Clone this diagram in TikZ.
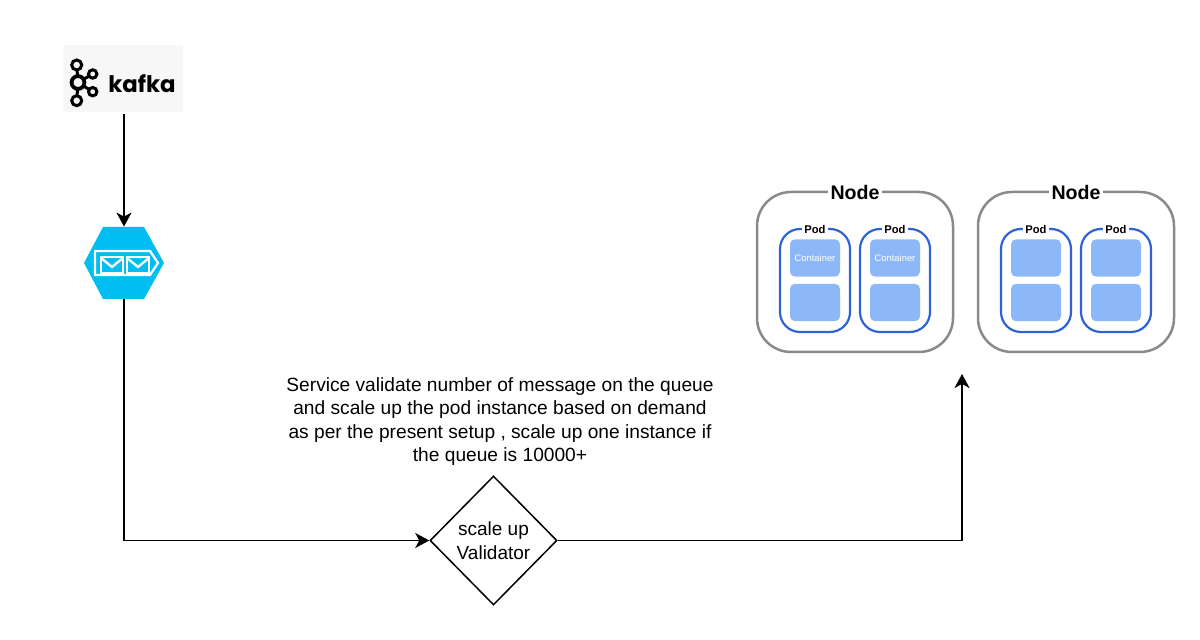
\documentclass[tikz,border=0pt]{standalone}
\usepackage{fontspec}
\setmainfont{Liberation Sans}
\newfontfamily\logofont{Poppins}
\usetikzlibrary{arrows.meta,shapes.geometric}
\definecolor{queueblue}{HTML}{00BEF2}
\definecolor{podblue}{HTML}{2F63D0}
\definecolor{boxblue}{HTML}{8DB8F8}
\definecolor{nodegray}{HTML}{8A8A8A}
\tikzset{
  flow/.style={draw=black,line width=.9pt,-{Stealth[length=7pt,width=7.5pt,inset=2pt]}},
  nodebox/.style={draw=nodegray,line width=1.25pt,rounded corners=17pt,minimum width=98pt,minimum height=80pt,inner sep=0pt},
  podbox/.style={draw=podblue,line width=1.1pt,rounded corners=10pt,minimum width=35pt,minimum height=51.5pt,inner sep=0pt},
  contbox/.style={fill=boxblue,rounded corners=2.5pt,minimum width=25pt,minimum height=18.7pt,inner sep=0pt,text=white,font=\fontsize{4.7}{5}\selectfont},
  nodetitle/.style={fill=white,inner sep=1.2pt,font=\fontsize{9.8}{10}\selectfont\bfseries},
  podtitle/.style={fill=white,inner sep=1pt,font=\fontsize{5.6}{6}\selectfont\bfseries},
  logoring/.style={draw=black,line width=1.5pt},
  envelope/.style={draw=white,line width=1.15pt}
}
\begin{document}
\begin{tikzpicture}[x=.5pt,y=-.5pt]
  \useasboundingbox (0,0) rectangle (1200,640);

  % kafka logo
  \node (kafka) [fill=black!3,minimum width=60pt,minimum height=33.5pt,inner sep=0pt] at (123,78.5) {};
  \draw[logoring] (76.7,65) -- (78,82.5) -- (76.7,100.7);
  \draw[logoring] (78,82.5) -- (92.7,74);
  \draw[logoring] (78,82.5) -- (92.7,91.7);
  \foreach \lx/\ly/\lr in {76.7/65/2.5,76.7/100.7/2.5,92.7/74/2.1,92.7/91.7/2.1}
    \draw[logoring,fill=black!3] (\lx,\ly) circle (\lr pt);
  \draw[logoring,line width=1.9pt,fill=black!3] (78,82.5) circle (3.2pt);
  \node (kafkaname) [inner sep=0pt] at (142,83.5) {\logofont\fontsize{11.4}{13}\selectfont\bfseries kafka};

  % queue
  \node (queue) [minimum width=40pt,minimum height=36pt,inner sep=0pt] at (124,263) {};
  \fill[queueblue] (84,263) -- (103,227) -- (144,227) -- (164,263) -- (144,299) -- (103,299) -- cycle;
  \draw[envelope] (95,251) -- (150,251) -- (158,263) -- (150,275) -- (95,275) -- cycle;
  \foreach \ex in {101,127} {
    \draw[envelope] (\ex,257) rectangle (\ex+22,273);
    \draw[envelope] (\ex,258) -- (\ex+11,267) -- (\ex+22,258);
  }

  % validator
  \node (validator) [diamond,draw=black,line width=.75pt,minimum width=63.5pt,minimum height=64.5pt,inner sep=0pt,align=center,font=\fontsize{9.5}{11.8}\selectfont] at (493.5,540.5) {scale up\\Validator};
  \node (note) [align=center,inner sep=0pt,font=\fontsize{9.58}{11.6}\selectfont] at (500,421.5) {Service validate number of message on the queue\\and scale up the pod instance based on demand\\as per the present setup , scale up one instance if\\the queue is 10000+};

  % node boxes
  \foreach \nid/\nx in {a/855,b/1076} {
    \node (node\nid) [nodebox] at (\nx,272) {};
    \node (title\nid) [nodetitle] at (\nx,192.5) {Node};
    \foreach \pid/\px in {l/-40,r/40} {
      \node (pod\nid\pid) [podbox] at (\nx+\px,280.5) {};
      \node (podtitle\nid\pid) [podtitle] at (\nx+\px,229.5) {Pod};
      \node (low\nid\pid) [contbox] at (\nx+\px,302.5) {};
    }
  }
  \foreach \pid/\px in {l/815,r/895}
    \node (topa\pid) [contbox] at (\px,258) {Container};
  \foreach \pid/\px in {l/1036,r/1116}
    \node (topb\pid) [contbox] at (\px,258) {};

  \coordinate (target) at (962,374);

  \draw[flow] (kafka.south -| queue.north) ++(0,2) -- (queue.north);
  \draw[flow] (queue.south) |- (validator.west);
  \draw[flow] (validator.east) -| (target);
\end{tikzpicture}
\end{document}
